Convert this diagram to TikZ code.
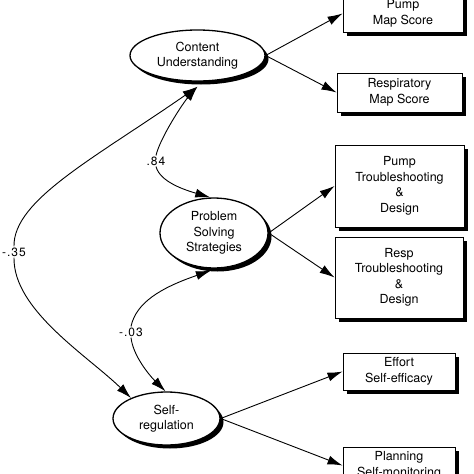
\documentclass[tikz,border=0pt]{standalone}
\usepackage{fontspec}
\setmainfont{TeX Gyre Heros}
\usetikzlibrary{shapes.geometric,arrows.meta,shadows}
\begin{document}
\begin{tikzpicture}[x=1pt,y=-1pt,
  txt/.style={font=\fontsize{12.5}{15.5}\selectfont,align=center,inner sep=0pt},
  lat/.style={txt,ellipse,draw,line width=1.3pt,fill=white,
    drop shadow={shadow xshift=3.5pt,shadow yshift=-3.5pt,opacity=1,fill=black}},
  obs/.style={txt,rectangle,draw,line width=0.9pt,fill=white,
    drop shadow={shadow xshift=3.5pt,shadow yshift=-3.5pt,opacity=1,fill=black}},
  arr/.style={-{Latex[length=15pt,width=9pt]},line width=0.9pt},
  lbl/.style={fill=white,inner sep=1pt,font=\fontsize{12}{14}\selectfont\addfontfeature{LetterSpace=8}}]
\useasboundingbox (0,0) rectangle (474,474);
\fill[white] (0,0) rectangle (474,474);
% latent variables
\node[lat,minimum width=135pt,minimum height=51pt] (cu) at (197.5,55.5) {Content\\Understanding};
\node[lat,minimum width=108pt,minimum height=70pt] (pss) at (214,233) {Problem\\Solving\\Strategies};
\node[lat,minimum width=107pt,minimum height=53pt] (sr) at (166.5,418.5) {Self-\\regulation};
% observed variables
\node[obs,minimum width=120pt,minimum height=37pt] (pms) at (403,13.5) {Pump\\Map Score};
\node[obs,minimum width=125pt,minimum height=39pt] (rms) at (399.5,92.5) {Respiratory\\Map Score};
\node[obs,minimum width=129pt,minimum height=82pt] (pt) at (399.5,186) {Pump\\Troubleshooting\\\&\\Design};
\node[obs,minimum width=128pt,minimum height=81pt] (rt) at (399,277.5) {Resp\\Troubleshooting\\\&\\Design};
\node[obs,minimum width=112pt,minimum height=37pt] (es) at (399,371.5) {Effort\\Self-efficacy};
\node[obs,minimum width=112pt,minimum height=37pt] (psm) at (399,465.5) {Planning\\Self-monitoring};
% loadings
\draw[arr] (cu.east) -- (pms.west);
\draw[arr] (cu.east) -- (rms.west);
\draw[arr] (pss.east) -- (pt.west);
\draw[arr] (pss.east) -- (rt.west);
\draw[arr] (sr.east) -- (es.west);
\draw[arr] (sr.east) -- (psm.west);
% correlations
\node[lbl] (l35) at (14,252) {-.35};
\node[lbl] (l84) at (156,161) {.84};
\node[lbl] (l03) at (131,332) {-.03};
\draw[arr] (l35.north) .. controls (13,200) and (95,158) .. ([yshift=-5pt]cu.south);
\draw[arr] (l35.south) .. controls (13,310) and (88,356) .. (sr.150);
\draw[arr] (l84.north) .. controls (160,138) and (183,103) .. ([yshift=-5pt]cu.south);
\draw[arr] (l84.south) .. controls (160,182) and (185,190) .. (pss.96);
\draw[arr] (l03.north) .. controls (136,303) and (160,288) .. ([yshift=-2pt]pss.265);
\draw[arr] (l03.south) .. controls (133,356) and (150,376) .. (sr.92);
\end{tikzpicture}
\end{document}
